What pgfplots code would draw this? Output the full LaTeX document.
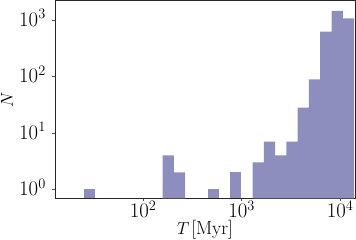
\documentclass[border=0pt]{standalone}
\usepackage{pgfplots}
\pgfplotsset{compat=1.18}
\definecolor{barc}{RGB}{141,141,190}
\begin{document}
\fontsize{17.28}{20}\selectfont
\begin{tikzpicture}
\begin{axis}[
  at={(0,0)}, anchor=south west,
  scale only axis, width=300pt, height=197.5pt,
  xmode=log, ymode=log, log basis x=10, log basis y=10,
  log origin=infty,
  xmin=12.75, xmax=14125, ymin=0.694, ymax=2165,
  xtick={100,1000,10000}, ytick={1,10,100,1000},
  tick align=outside, major tick length=3pt, minor tick length=1.8pt,
  tick style={black!70, line width=0.5pt},
  axis line style={black!85, line width=0.8pt},
  ticklabel style={font=\fontsize{20}{24}\selectfont},
  xticklabel style={anchor=base, yshift=-16.7pt, inner sep=0pt},
  yticklabel style={anchor=base east, yshift=-6.4pt, xshift=-6pt, inner sep=0pt},
  label style={font=\fontsize{19}{22}\selectfont},
  xlabel={$T\mkern2mu$[Myr]}, ylabel={$N$},
  xlabel style={at={(axis description cs:0.5,0)}, anchor=base, yshift=-36pt, inner sep=0pt},
  ylabel style={at={(axis description cs:-0.14,0.5)}, anchor=south, inner sep=0pt},
  clip=true,
]
% histogram (log-spaced bins, 25 Myr to 13.8 Gyr, 24 bins); zero bins omitted
\addplot[ybar interval, fill=barc, draw=none] coordinates {(25.00,1) (32.52,1)};
\addplot[ybar interval, fill=barc, draw=none] coordinates {(157.63,4) (205.06,2) (266.8,2)};
\addplot[ybar interval, fill=barc, draw=none] coordinates {(451.5,1) (587.4,1)};
\addplot[ybar interval, fill=barc, draw=none] coordinates {(764.1,2) (994.0,2)};
\addplot[ybar interval, fill=barc, draw=none] coordinates {
(1293.2,3) (1682.3,7) (2188.6,4) (2847.3,7) (3704.0,28) (4818.7,88) (6268.8,614) (8155.2,1439) (10609,1054) (13800,1054)};
\end{axis}
\pgfresetboundingbox
\path[use as bounding box] (-55pt,-41.7pt) rectangle (301pt,198.3pt);
\end{tikzpicture}
\end{document}
